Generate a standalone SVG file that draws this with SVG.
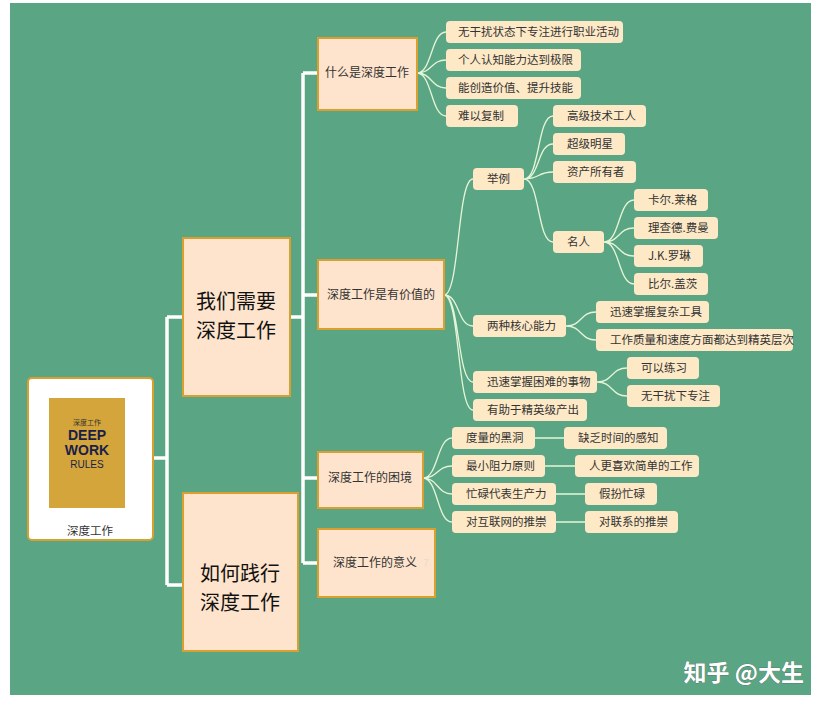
<svg xmlns="http://www.w3.org/2000/svg" width="826" height="706" viewBox="0 0 826 706">
<style>
text{font-family:"Noto Sans CJK SC","Noto Sans",sans-serif;fill:#333}
.l{font-size:11.5px}
.big{font-size:20px;fill:#111}
.m{font-size:12px}
.leaf{fill:#fde9c6;stroke:none}
.mid{fill:#fee4cc;stroke:#d9a030;stroke-width:2}
.c{fill:none;stroke:#e6f5d8;stroke-width:1.3}
.w{fill:none;stroke:#fff;stroke-width:3.5}
.bk{font-family:"Liberation Sans",sans-serif;font-weight:bold;fill:#1a1f4a}
</style>
<rect width="826" height="706" fill="#fff"/>
<rect x="10" y="3" width="801" height="692" fill="#5aa684"/>
<g id="connectors">
<path class="w" d="M153 458H167M167 317V585M167 317H183M167 585H183"/>
<path class="w" d="M290 317H303M303 73V563M303 73H318M303 295H318M303 478H318M303 563H318"/>
<path class="c" d="M417 73C432 73 431 32 446 32M417 73C432 73 431 60 446 60M417 73C432 73 431 88 446 88M417 73C432 73 431 116 446 116"/>
<path class="c" d="M444 295C460 295 457 179 473 179M444 295C460 295 457 326 473 326M444 295C460 295 457 382 473 382M444 295C460 295 457 410 473 410"/>
<path class="c" d="M524 179C540 179 537 116 553 116M524 179C540 179 537 144 553 144M524 179C540 179 537 172 553 172M524 179C540 179 537 242 553 242"/>
<path class="c" d="M604 242C620 242 618 200 634 200M604 242C620 242 618 228 634 228M604 242C620 242 618 256 634 256M604 242C620 242 618 284 634 284"/>
<path class="c" d="M566 326C582 326 580 312 596 312M566 326C582 326 580 340 596 340"/>
<path class="c" d="M597 382C613 382 611 368 627 368M597 382C613 382 611 396 627 396"/>
<path class="c" d="M423 478C438 478 437 438 452 438M423 478C438 478 437 466 452 466M423 478C438 478 437 494 452 494M423 478C438 478 437 522 452 522"/>
<path class="c" d="M535 438H564M545 466H575M556 494H585M556 522H585"/>
</g>
<g id="book">
<rect x="28" y="378" width="125" height="162" rx="4" fill="#fff" stroke="#d9a030" stroke-width="2"/>
<rect x="49" y="398" width="76" height="110" fill="#d3a53a"/>
<text x="87" y="425" text-anchor="middle" style="font-size:7px;fill:#333">深度工作</text>
<text x="87" y="440" text-anchor="middle" class="bk" style="font-size:14px">DEEP</text>
<text x="87" y="455" text-anchor="middle" class="bk" style="font-size:14px">WORK</text>
<text x="87" y="468" text-anchor="middle" style="font-size:10px;fill:#1a1f4a;font-family:'Liberation Sans',sans-serif">RULES</text>
<text x="90" y="535" text-anchor="middle" class="l">深度工作</text>
</g>
<g id="n-need"><rect class="mid" x="183" y="238" width="107" height="158"/><text class="big" x="236" y="309" text-anchor="middle">我们需要</text><text class="big" x="236" y="338" text-anchor="middle">深度工作</text></g>
<g id="n-how"><rect class="mid" x="183" y="493" width="115" height="158"/><text class="big" x="240" y="581" text-anchor="middle">如何践行</text><text class="big" x="240" y="610" text-anchor="middle">深度工作</text></g>
<g id="n-what"><rect class="mid" x="318" y="38" width="99" height="72"/><text class="m" x="367" y="77" text-anchor="middle">什么是深度工作</text></g>
<g id="n-value"><rect class="mid" x="318" y="260" width="126" height="69"/><text class="m" x="381" y="299" text-anchor="middle">深度工作是有价值的</text></g>
<g id="n-dilemma"><rect class="mid" x="318" y="452" width="105" height="56"/><text class="m" x="370" y="482" text-anchor="middle">深度工作的困境</text></g>
<g id="n-meaning"><rect class="mid" x="318" y="529" width="117" height="68"/><text class="m" x="333" y="567">深度工作的意义</text><text x="423" y="567" style="font-size:10px;fill:#ddd">7</text></g>
<g id="leaves">
<g id="l1"><rect class="leaf" x="446" y="21" width="177" height="22" rx="4"/><text class="l" x="458" y="36">无干扰状态下专注进行职业活动</text></g>
<g id="l2"><rect class="leaf" x="446" y="49" width="135" height="22" rx="4"/><text class="l" x="458" y="64">个人认知能力达到极限</text></g>
<g id="l3"><rect class="leaf" x="446" y="77" width="135" height="22" rx="4"/><text class="l" x="458" y="92">能创造价值、提升技能</text></g>
<g id="l4"><rect class="leaf" x="446" y="105" width="72" height="22" rx="4"/><text class="l" x="458" y="120">难以复制</text></g>
<g id="l5"><rect class="leaf" x="473" y="168" width="51" height="22" rx="4"/><text class="l" x="487" y="183">举例</text></g>
<g id="l6"><rect class="leaf" x="553" y="105" width="93" height="22" rx="4"/><text class="l" x="567" y="120">高级技术工人</text></g>
<g id="l7"><rect class="leaf" x="553" y="133" width="72" height="22" rx="4"/><text class="l" x="567" y="148">超级明星</text></g>
<g id="l8"><rect class="leaf" x="553" y="161" width="83" height="22" rx="4"/><text class="l" x="567" y="176">资产所有者</text></g>
<g id="l9"><rect class="leaf" x="553" y="231" width="51" height="22" rx="4"/><text class="l" x="567" y="246">名人</text></g>
<g id="l10"><rect class="leaf" x="634" y="189" width="74" height="22" rx="4"/><text class="l" x="648" y="204">卡尔.莱格</text></g>
<g id="l11"><rect class="leaf" x="634" y="217" width="84" height="22" rx="4"/><text class="l" x="648" y="232">理查德.费曼</text></g>
<g id="l12"><rect class="leaf" x="634" y="245" width="69" height="22" rx="4"/><text class="l" x="648" y="260">J.K.罗琳</text></g>
<g id="l13"><rect class="leaf" x="634" y="273" width="74" height="22" rx="4"/><text class="l" x="648" y="288">比尔.盖茨</text></g>
<g id="l14"><rect class="leaf" x="473" y="315" width="93" height="22" rx="4"/><text class="l" x="487" y="330">两种核心能力</text></g>
<g id="l15"><rect class="leaf" x="596" y="301" width="113" height="22" rx="4"/><text class="l" x="610" y="316">迅速掌握复杂工具</text></g>
<g id="l16"><rect class="leaf" x="596" y="329" width="197" height="22" rx="4"/><text class="l" x="610" y="344">工作质量和速度方面都达到精英层次</text></g>
<g id="l17"><rect class="leaf" x="473" y="371" width="124" height="22" rx="4"/><text class="l" x="487" y="386">迅速掌握困难的事物</text></g>
<g id="l18"><rect class="leaf" x="627" y="357" width="72" height="22" rx="4"/><text class="l" x="641" y="372">可以练习</text></g>
<g id="l19"><rect class="leaf" x="627" y="385" width="93" height="22" rx="4"/><text class="l" x="641" y="400">无干扰下专注</text></g>
<g id="l20"><rect class="leaf" x="473" y="399" width="114" height="22" rx="4"/><text class="l" x="487" y="414">有助于精英级产出</text></g>
<g id="l21"><rect class="leaf" x="452" y="427" width="83" height="22" rx="4"/><text class="l" x="466" y="442">度量的黑洞</text></g>
<g id="l22"><rect class="leaf" x="564" y="427" width="103" height="22" rx="4"/><text class="l" x="578" y="442">缺乏时间的感知</text></g>
<g id="l23"><rect class="leaf" x="452" y="455" width="93" height="22" rx="4"/><text class="l" x="466" y="470">最小阻力原则</text></g>
<g id="l24"><rect class="leaf" x="575" y="455" width="124" height="22" rx="4"/><text class="l" x="589" y="470">人更喜欢简单的工作</text></g>
<g id="l25"><rect class="leaf" x="452" y="483" width="104" height="22" rx="4"/><text class="l" x="466" y="498">忙碌代表生产力</text></g>
<g id="l26"><rect class="leaf" x="585" y="483" width="72" height="22" rx="4"/><text class="l" x="599" y="498">假扮忙碌</text></g>
<g id="l27"><rect class="leaf" x="452" y="511" width="104" height="22" rx="4"/><text class="l" x="466" y="526">对互联网的推崇</text></g>
<g id="l28"><rect class="leaf" x="585" y="511" width="93" height="22" rx="4"/><text class="l" x="599" y="526">对联系的推崇</text></g>
</g>
<text x="804" y="681" text-anchor="end" style="font-size:23px;font-weight:bold;fill:#fff;stroke:#555;stroke-width:0.5;paint-order:stroke">知乎 @大生</text>
</svg>
